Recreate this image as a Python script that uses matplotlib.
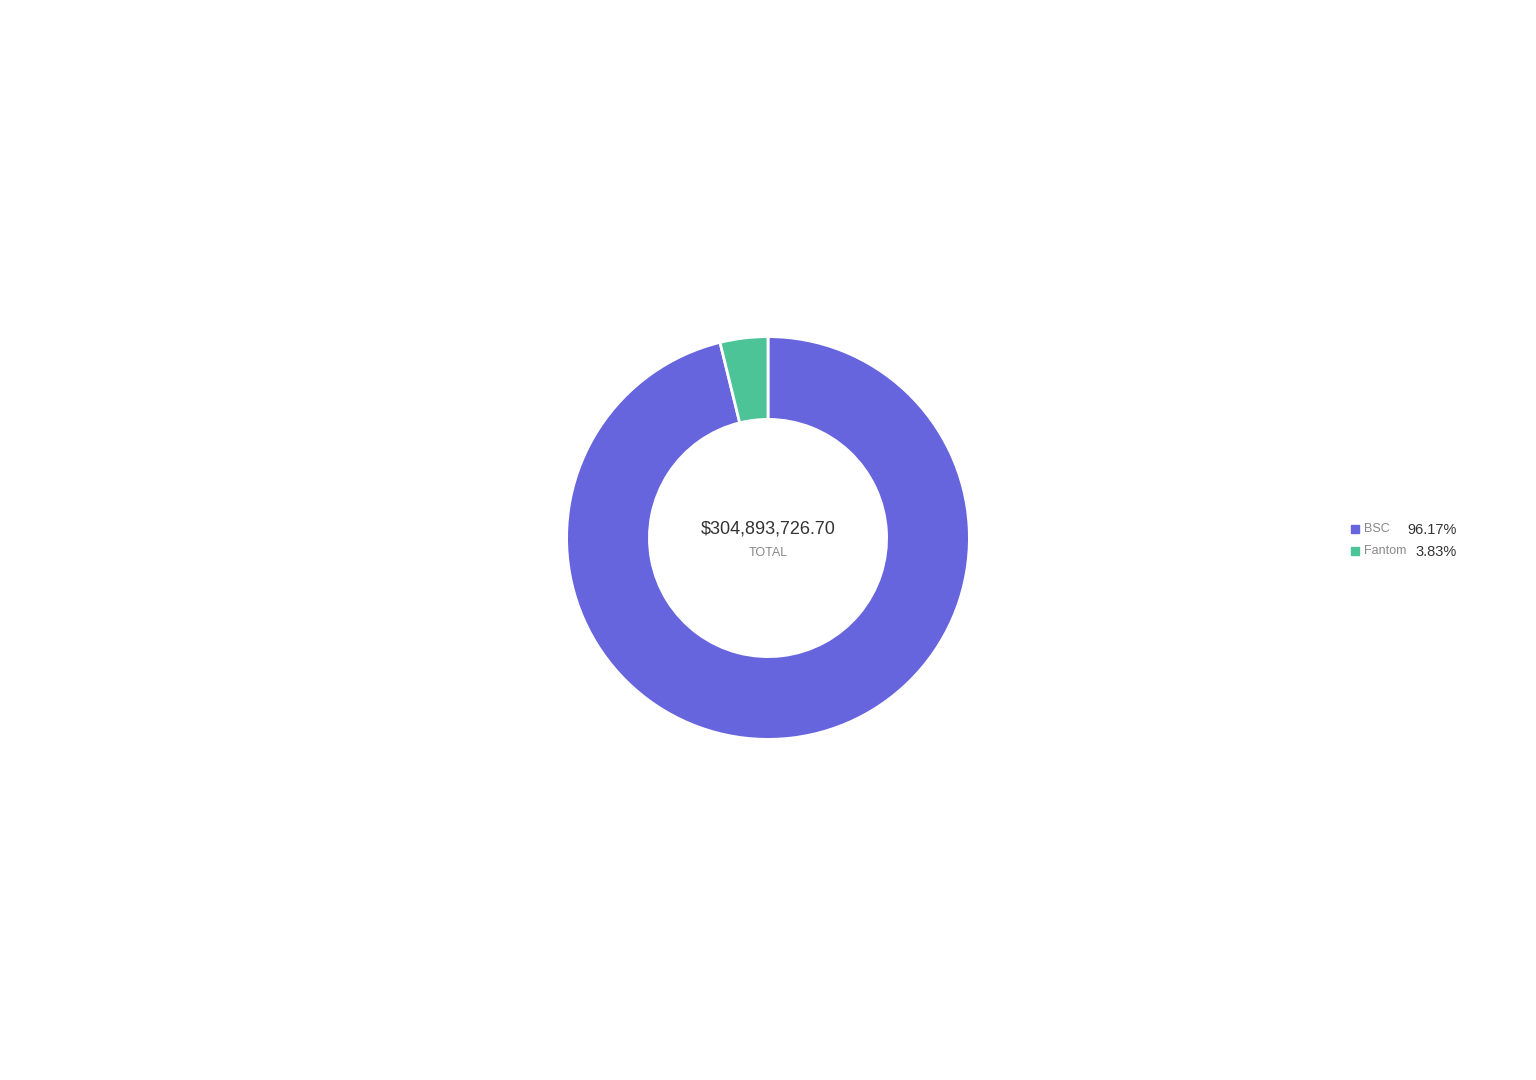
import matplotlib
matplotlib.use("Agg")
import matplotlib.pyplot as plt

categories = ["BSC", "Fantom"]
shares = [96.17, 3.83]
colors = ["#6665de", "#4cc497"]
total_label = "$304,893,726.70"

W, H = 1536, 1080
fig = plt.figure(figsize=(W / 100, H / 100), dpi=100)
ax = fig.add_axes([0, 0, 1, 1])

plt.rcParams["font.family"] = ["Liberation Sans", "DejaVu Sans"]

cx, cy = 768, 538
ax.pie(shares, colors=colors, startangle=-90, counterclock=True,
       radius=201.4, center=(cx, cy), frame=True,
       wedgeprops=dict(width=82.8, edgecolor="white", linewidth=2))
ax.set_xlim(0, W)
ax.set_ylim(H, 0)
ax.set_aspect("equal")
ax.axis("off")

fam = ["Liberation Sans", "DejaVu Sans"]
ax.text(cx, 529, total_label, ha="center", va="center", fontsize=13,
        color="#333333", family=fam)
ax.text(cx, 553, "TOTAL", ha="center", va="center", fontsize=9,
        color="#888888", family=fam)

ys = [529.5, 551.5]
for cat, val, col, y in zip(categories, shares, colors, ys):
    ax.add_patch(plt.Rectangle((1351, y - 4.5), 8, 8, color=col))
    ax.text(1364, y, cat, ha="left", va="center", fontsize=9,
            color="#888888", family=fam)
    ax.text(1457, y, f"{val:.2f}%", ha="right", va="center", fontsize=10.5,
            color="#333333", family=fam)

fig.savefig("out.png", dpi=100, facecolor="white")
